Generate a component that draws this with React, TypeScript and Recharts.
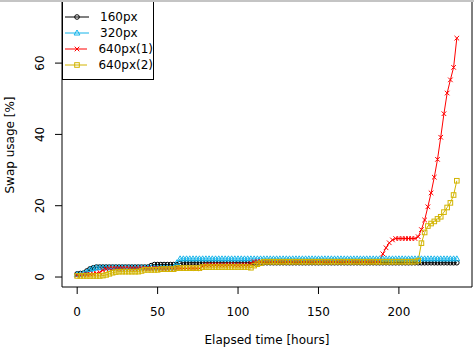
import React from "react";
import { LineChart, Line, XAxis, YAxis, Label } from "recharts";

// elapsed time in hours (one sample every 2 hours)
const hours = [
  0, 2, 4, 6, 8, 10, 12, 14, 16, 18, 20, 22, 24, 26, 28, 30, 32, 34, 36, 38,
  40, 42, 44, 46, 48, 50, 52, 54, 56, 58, 60, 62, 64, 66, 68, 70, 72, 74, 76, 78,
  80, 82, 84, 86, 88, 90, 92, 94, 96, 98, 100, 102, 104, 106, 108, 110, 112, 114, 116, 118,
  120, 122, 124, 126, 128, 130, 132, 134, 136, 138, 140, 142, 144, 146, 148, 150, 152, 154, 156, 158,
  160, 162, 164, 166, 168, 170, 172, 174, 176, 178, 180, 182, 184, 186, 188, 190, 192, 194, 196, 198,
  200, 202, 204, 206, 208, 210, 212, 214, 216, 218, 220, 222, 224, 226, 228, 230, 232, 234, 236,
];

// swap usage [%]
const px160 = [
  0.9, 1.0, 1.1, 1.7, 2.3, 2.6, 2.8, 2.8, 2.8, 2.8,
  2.8, 2.8, 2.8, 2.8, 2.8, 2.8, 2.8, 2.8, 2.8, 2.8,
  2.8, 2.8, 2.8, 3.2, 3.5, 3.5, 3.5, 3.5, 3.5, 3.5,
  3.5, 3.5, 3.8, 4.0, 4.0, 4.0, 4.0, 4.0, 4.0, 4.0,
  4.0, 4.0, 4.0, 4.0, 4.0, 4.0, 4.0, 4.0, 4.0, 4.0,
  4.0, 4.0, 4.0, 4.0, 4.0, 4.0, 4.0, 4.0, 4.0, 4.0,
  4.0, 4.0, 4.0, 4.0, 4.0, 4.0, 4.0, 4.0, 4.0, 4.0,
  4.0, 4.0, 4.0, 4.0, 4.0, 4.0, 4.0, 4.0, 4.0, 4.0,
  4.0, 4.0, 4.0, 4.0, 4.0, 4.0, 4.0, 4.0, 4.0, 4.0,
  4.0, 4.0, 4.0, 4.0, 4.0, 4.0, 4.0, 4.0, 4.0, 4.0,
  4.0, 4.0, 4.0, 4.0, 4.0, 4.0, 4.0, 4.0, 4.0, 4.0,
  4.0, 4.0, 4.0, 4.0, 4.0, 4.0, 4.0, 4.0, 4.0,
];

const px320 = [
  0.7, 0.8, 1.0, 1.4, 2.1, 2.4, 2.6, 2.6, 2.6, 2.6,
  2.6, 2.6, 2.6, 2.6, 2.6, 2.6, 2.6, 2.6, 2.6, 2.6,
  2.6, 2.6, 2.6, 2.6, 2.6, 2.6, 2.6, 2.6, 2.6, 2.6,
  2.6, 4.0, 5.1, 5.1, 5.1, 5.1, 5.1, 5.1, 5.1, 5.1,
  5.1, 5.1, 5.1, 5.1, 5.1, 5.1, 5.1, 5.1, 5.1, 5.1,
  5.1, 5.1, 5.1, 5.1, 5.1, 5.1, 5.1, 5.1, 5.1, 5.1,
  5.1, 5.1, 5.1, 5.1, 5.1, 5.1, 5.1, 5.1, 5.1, 5.1,
  5.1, 5.1, 5.1, 5.1, 5.1, 5.1, 5.1, 5.1, 5.1, 5.1,
  5.1, 5.1, 5.1, 5.1, 5.1, 5.1, 5.1, 5.1, 5.1, 5.1,
  5.1, 5.1, 5.1, 5.1, 5.1, 5.1, 5.1, 5.1, 5.1, 5.1,
  5.1, 5.1, 5.1, 5.1, 5.1, 5.1, 5.1, 5.1, 5.1, 5.1,
  5.1, 5.1, 5.1, 5.1, 5.1, 5.1, 5.1, 5.1, 5.1,
];

const px640a = [
  0.5, 0.5, 0.6, 0.7, 0.8, 0.9, 1.0, 1.3, 1.9, 2.2,
  2.4, 2.4, 2.4, 2.4, 2.4, 2.4, 2.4, 2.4, 2.4, 2.4,
  2.4, 2.4, 2.4, 2.4, 2.4, 2.4, 2.4, 2.4, 2.4, 2.4,
  2.4, 2.4, 2.4, 2.4, 2.4, 2.4, 2.4, 2.4, 2.4, 3.0,
  3.4, 3.4, 3.4, 3.4, 3.4, 3.4, 3.4, 3.4, 3.4, 3.4,
  3.4, 3.4, 3.4, 3.4, 3.8, 4.3, 4.3, 4.3, 4.3, 4.3,
  4.3, 4.3, 4.3, 4.3, 4.3, 4.3, 4.3, 4.3, 4.3, 4.3,
  4.3, 4.3, 4.3, 4.3, 4.3, 4.3, 4.3, 4.3, 4.3, 4.3,
  4.3, 4.3, 4.3, 4.3, 4.3, 4.3, 4.3, 4.3, 4.3, 4.3,
  4.3, 4.3, 4.3, 4.3, 4.3, 6.5, 8.2, 9.6, 10.4, 10.8,
  10.8, 10.8, 10.8, 10.8, 10.8, 10.8, 11.3, 13.3, 16.0, 19.7,
  23.6, 28.0, 33.0, 39.2, 45.8, 51.6, 55.3, 58.8, 67.0,
];

const px640b = [
  0.3, 0.3, 0.3, 0.3, 0.3, 0.3, 0.3, 0.3, 0.4, 0.6,
  0.9, 1.2, 1.4, 1.5, 1.5, 1.5, 1.5, 1.5, 1.5, 1.5,
  1.7, 2.0, 2.0, 2.0, 2.0, 2.0, 2.2, 2.2, 2.2, 2.2,
  2.2, 2.5, 2.5, 2.5, 2.5, 2.5, 2.5, 2.5, 2.5, 2.8,
  2.8, 2.8, 2.8, 2.8, 2.8, 2.8, 2.8, 2.8, 2.8, 2.8,
  2.8, 2.8, 2.8, 2.8, 2.6, 3.2, 3.6, 3.9, 4.3, 4.3,
  4.3, 4.3, 4.3, 4.3, 4.3, 4.3, 4.3, 4.3, 4.3, 4.3,
  4.3, 4.3, 4.3, 4.3, 4.3, 4.3, 4.3, 4.3, 4.3, 4.3,
  4.3, 4.3, 4.3, 4.3, 4.3, 4.3, 4.3, 4.3, 4.3, 4.3,
  4.3, 4.3, 4.3, 4.3, 4.3, 4.3, 4.3, 4.3, 4.3, 4.3,
  4.3, 4.3, 4.3, 4.3, 4.3, 4.3, 4.6, 9.5, 12.5, 14.3,
  15.0, 15.6, 16.3, 16.9, 18.2, 19.5, 20.8, 23.0, 27.0,
];

const xTicks = [0, 50, 100, 150, 200];
const yTicks = [0, 20, 40, 60];

const series = [
  { key: "s160", name: "160px", color: "#000000", shape: "circle" },
  { key: "s320", name: "320px", color: "#14b4ea", shape: "triangle" },
  { key: "s640a", name: "640px(1)", color: "#ff0000", shape: "cross" },
  { key: "s640b", name: "640px(2)", color: "#d2b400", shape: "square" },
];

const data = hours.map((h, i) => ({
  h,
  s160: px160[i],
  s320: px320[i],
  s640a: px640a[i],
  s640b: px640b[i],
}));

const FONT = "'DejaVu Sans', sans-serif";

function Marker({ cx, cy, shape, color }: { cx: number; cy: number; shape: string; color: string }) {
  if (cx == null || cy == null) return null;
  if (shape === "circle") return <circle cx={cx} cy={cy} r={2.3} fill="none" stroke={color} strokeWidth={1} />;
  if (shape === "triangle")
    return (
      <polygon
        points={`${cx},${cy - 3} ${cx - 2.9},${cy + 2} ${cx + 2.9},${cy + 2}`}
        fill="none"
        stroke={color}
        strokeWidth={1}
      />
    );
  if (shape === "cross")
    return (
      <path
        d={`M${cx - 2.3},${cy - 2.3}L${cx + 2.3},${cy + 2.3}M${cx - 2.3},${cy + 2.3}L${cx + 2.3},${cy - 2.3}`}
        stroke={color}
        strokeWidth={1}
      />
    );
  return <rect x={cx - 2.3} y={cy - 2.3} width={4.6} height={4.6} fill="none" stroke={color} strokeWidth={1} />;
}

const YTick = (props: any) => {
  const { y, payload } = props;
  const x = 44;
  return (
    <text
      x={x}
      y={y}
      transform={`rotate(-90, ${x}, ${y})`}
      textAnchor="middle"
      fontFamily={FONT}
      fontSize={12}
      fill="#000"
    >
      {payload.value}
    </text>
  );
};

const LegendBox = () => (
  <div
    style={{
      position: "absolute",
      left: 62,
      top: -5,
      width: 92,
      height: 85,
      border: "1px solid #000",
      background: "#fff",
      boxSizing: "border-box",
      paddingTop: 13,
      paddingLeft: 2,
      fontFamily: FONT,
      fontSize: 12,
      color: "#000",
    }}
  >
    {series.map((s) => (
      <div key={s.key} style={{ display: "flex", alignItems: "center", height: 16 }}>
        <svg width={24} height={16}>
          <line x1={0} x2={24} y1={8} y2={8} stroke={s.color} strokeWidth={1} />
          <Marker cx={12} cy={8} shape={s.shape} color={s.color} />
        </svg>
        <span style={{ marginLeft: 11, lineHeight: "16px" }}>{s.name}</span>
      </div>
    ))}
  </div>
);

export default function App() {
  return (
    <div
      style={{
        position: "fixed",
        left: 0,
        top: 0,
        width: 474,
        height: 353,
        background: "#fff",
        overflow: "hidden",
      }}
    >
      <LineChart width={474} height={353} data={data} margin={{ top: 0, right: 0, left: 0, bottom: 0 }}>
        <XAxis
          dataKey="h"
          type="number"
          domain={[-9.44, 245.44]}
          ticks={xTicks}
          allowDataOverflow
          height={66}
          tickSize={7}
          tickMargin={13}
          stroke="#000"
          tick={{ fill: "#000", fontFamily: FONT, fontSize: 12 }}
        >
          <Label
            value="Elapsed time [hours]"
            position="insideBottom"
            offset={9}
            style={{ fill: "#000", fontFamily: FONT, fontSize: 12 }}
          />
        </XAxis>
        <YAxis
          yAxisId="l"
          type="number"
          domain={[-2.8, 77.7]}
          ticks={yTicks}
          allowDataOverflow
          width={62}
          tickSize={7}
          stroke="#000"
          tick={<YTick />}
        >
          <Label
            content={() => (
              <text
                x={14}
                y={145}
                transform="rotate(-90, 14, 145)"
                textAnchor="middle"
                fontFamily={FONT}
                fontSize={12}
                fill="#000"
              >
                Swap usage [%]
              </text>
            )}
          />
        </YAxis>
        <YAxis
          yAxisId="r"
          orientation="right"
          domain={[-2.8, 77.7]}
          width={2}
          tick={false}
          tickLine={false}
          stroke="#000"
        />
        {series.map((s) => (
          <Line
            key={s.key}
            yAxisId="l"
            type="linear"
            dataKey={s.key}
            name={s.name}
            stroke={s.color}
            strokeWidth={1}
            isAnimationActive={false}
            activeDot={false}
            dot={(p: any) => (
              <Marker key={`${s.key}-${p.index}`} cx={p.cx} cy={p.cy} shape={s.shape} color={s.color} />
            )}
          />
        ))}
      </LineChart>
      <LegendBox />
      <div style={{ position: "absolute", left: 0, top: 0, width: 474, height: 2, background: "#c4c4c4" }} />
    </div>
  );
}
